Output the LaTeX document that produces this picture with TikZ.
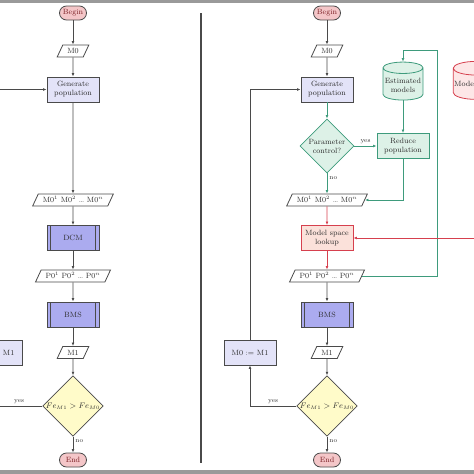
\documentclass[tikz,border=0pt]{standalone}
\usetikzlibrary{arrows.meta,positioning,shapes.geometric}
\definecolor{linegray}{HTML}{4A4A4A}
\definecolor{textgray}{HTML}{2E2E2E}
\definecolor{termfill}{HTML}{F4C6C8}
\definecolor{termred}{HTML}{7A1F24}
\definecolor{genfill}{HTML}{E3E3F8}
\definecolor{predeffill}{HTML}{ABABEF}
\definecolor{decfill}{HTML}{FFFBC9}
\definecolor{paramgreen}{HTML}{3E9B7C}
\definecolor{paramfill}{HTML}{DDF1E7}
\definecolor{lookupred}{HTML}{D6404E}
\definecolor{lookupfill}{HTML}{FBE1DA}
\definecolor{spacefill}{HTML}{FDE7E7}
\definecolor{bargray}{HTML}{9A9A9A}
\newcommand\flowfont{\fontsize{7.6}{9}\selectfont}
\tikzset{
  box/.style={draw=linegray,line width=0.8pt,align=center,text=textgray,font=\flowfont},
  termbox/.style={box,rounded corners=7pt,fill=termfill,text=termred,minimum width=27pt,minimum height=14pt,inner sep=1pt},
  iobox/.style={box,trapezium,trapezium left angle=65,trapezium right angle=115,fill=white,
    text height=5.6pt,text depth=0.4pt,inner xsep=4.5pt,inner ysep=3pt},
  processbox/.style={box,fill=genfill,minimum width=52pt,minimum height=25pt,inner sep=1pt},
  predefbox/.style={processbox,fill=predeffill,path picture={
    \draw[linegray,line width=0.8pt] ([xshift=3.5pt]path picture bounding box.north west) -- ([xshift=3.5pt]path picture bounding box.south west)
      ([xshift=-3.5pt]path picture bounding box.north east) -- ([xshift=-3.5pt]path picture bounding box.south east);}},
  decbox/.style={box,diamond,aspect=1,fill=decfill,minimum size=58pt,inner sep=0pt},
  parambox/.style={decbox,draw=paramgreen,fill=paramfill,minimum size=54pt},
  reducebox/.style={processbox,draw=paramgreen,fill=paramfill},
  lookupbox/.style={processbox,draw=lookupred,fill=lookupfill},
  dbbox/.style={box,cylinder,shape border rotate=90,aspect=0.3,minimum width=40pt,minimum height=38pt,inner sep=1pt},
  estimbox/.style={dbbox,draw=paramgreen,fill=paramfill},
  spacebox/.style={dbbox,draw=lookupred,fill=spacefill},
  flow/.style={-{Latex[length=3.5pt,width=2.8pt]},line width=0.9pt,draw=linegray},
  greenflow/.style={flow,draw=paramgreen},
  redflow/.style={flow,draw=lookupred},
  lbl/.style={font=\fontsize{6.5}{7}\selectfont,text=textgray,inner sep=2pt}
}
\begin{document}
\begin{tikzpicture}[x=1pt,y=-1pt,node distance=38pt,on grid]
  \useasboundingbox (0,0) rectangle (474,474);
  \clip (0,0) rectangle (474,474);
  \fill[bargray] (0,0) rectangle (474,3);
  \fill[bargray] (0,470) rectangle (474,474);
  \draw[linegray,line width=1.2pt] (201,13) -- (201,463);

  % left: plain search
  \node[termbox] (l-begin) at (73,13) {Begin};
  \node[iobox,below=of l-begin] (l-m0) {M0};
  \node[processbox,below=38.5pt of l-m0] (l-gen) {Generate\\population};
  \node[iobox,below=110.5pt of l-gen] (l-mset) {M0$^1$ M0$^2$ \dots\ M0$^n$};
  \node[predefbox,below=of l-mset] (l-dcm) {DCM};
  \node[iobox,below=of l-dcm] (l-pset) {P0$^1$ P0$^2$ \dots\ P0$^n$};
  \node[predefbox,below=38.5pt of l-pset] (l-bms) {BMS};
  \node[iobox,below=of l-bms] (l-m1) {M1};
  \node[decbox,below=53.5pt of l-m1] (l-dec) {$Fe_{M1} > Fe_{M0}$};
  \node[termbox,below=54pt of l-dec] (l-end) {End};
  \node[processbox,left=77pt of l-m1] (l-upd) {M0 := M1};
  \draw[flow] (l-begin) -- (l-m0);
  \draw[flow] (l-m0) -- (l-gen);
  \draw[flow] (l-gen) -- (l-mset);
  \draw[flow] (l-mset) -- (l-dcm);
  \draw[flow] (l-dcm) -- (l-pset);
  \draw[flow] (l-pset) -- (l-bms);
  \draw[flow] (l-bms) -- (l-m1);
  \draw[flow] (l-m1) -- (l-dec);
  \draw[flow] (l-dec) -- node[lbl,right,pos=0.3] {no} (l-end);
  \draw[flow] (l-dec) -| node[lbl,above,pos=0.25] {yes} (l-upd);
  \draw[flow] (l-upd) |- (l-gen);

  % right: with model store
  \node[termbox] (r-begin) at (327,13) {Begin};
  \node[iobox,below=of r-begin] (r-m0) {M0};
  \node[processbox,below=38.5pt of r-m0] (r-gen) {Generate\\population};
  \node[parambox,below=56.5pt of r-gen] (r-param) {Parameter\\control?};
  \node[iobox,below=54pt of r-param] (r-mset) {M0$^1$ M0$^2$ \dots\ M0$^n$};
  \node[lookupbox,below=of r-mset] (r-lookup) {Model space\\lookup};
  \node[iobox,below=of r-lookup] (r-pset) {P0$^1$ P0$^2$ \dots\ P0$^n$};
  \node[predefbox,below=38.5pt of r-pset] (r-bms) {BMS};
  \node[iobox,below=of r-bms] (r-m1) {M1};
  \node[decbox,below=53.5pt of r-m1] (r-dec) {$Fe_{M1} > Fe_{M0}$};
  \node[termbox,below=54pt of r-dec] (r-end) {End};
  \node[processbox,left=77pt of r-m1] (r-upd) {M0 := M1};
  \node[reducebox,right=76pt of r-param] (r-reduce) {Reduce\\population};
  \node[estimbox,above=61pt of r-reduce] (r-estim) {Estimated\\models};
  \node[spacebox,right=73pt of r-estim] (r-space) {Model space};
  \coordinate (r-loop) at (437,50);
  \draw[flow] (r-begin) -- (r-m0);
  \draw[flow] (r-m0) -- (r-gen);
  \draw[greenflow] (r-gen) -- (r-param);
  \draw[greenflow] (r-param) -- node[lbl,above] {yes} (r-reduce);
  \draw[greenflow] (r-param) -- node[lbl,right,pos=0.25] {no} (r-mset);
  \draw[greenflow] (r-estim) -- (r-reduce);
  \draw[greenflow] (r-reduce) |- (r-mset);
  \draw[greenflow] (r-pset) -| (r-loop) -| (r-estim);
  \draw[redflow] (r-mset) -- (r-lookup);
  \draw[redflow] (r-lookup) -- (r-pset);
  \draw[redflow] (r-space) |- (r-lookup);
  \draw[flow] (r-pset) -- (r-bms);
  \draw[flow] (r-bms) -- (r-m1);
  \draw[flow] (r-m1) -- (r-dec);
  \draw[flow] (r-dec) -- node[lbl,right,pos=0.3] {no} (r-end);
  \draw[flow] (r-dec) -| node[lbl,above,pos=0.25] {yes} (r-upd);
  \draw[flow] (r-upd) |- (r-gen);
\end{tikzpicture}
\end{document}
